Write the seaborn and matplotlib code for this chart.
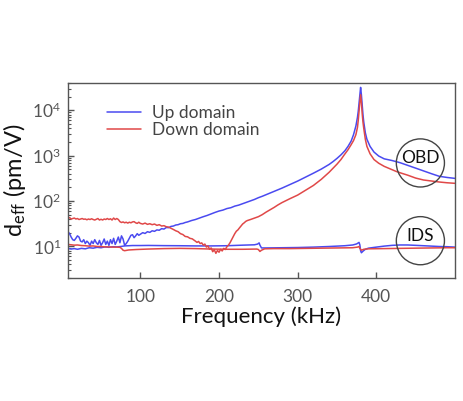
import numpy as np
import pandas as pd
import matplotlib
matplotlib.use("Agg")
import matplotlib.pyplot as plt
import seaborn as sns
from matplotlib.ticker import LogLocator, NullFormatter, FixedLocator

# ---------------- data ----------------
up_obd = [(8,21),(10,19),(12,16),(14,14),(16,13.5),(18,15),(20,17),(22,16),(24,13),(26,12.5),
          (28,14),(30,11.5),(32,13),(34,12),(36,10.5),(38,13),(40,11.5),(42,14),(44,12),(46,11),
          (48,13.5),(50,10.5),(52,12),(54,14.5),(56,11),(58,13),(60,10.5),(62,14),(64,11.5),(66,15),
          (68,11),(70,13),(72,16),(74,12),(76,17),(78,14.5),(80,10.5),(82,11.5),(84,13),(86,15),
          (88,17.5),(90,18),(92,15.5),(94,17),(96,19),(98,17.5),(100,18.5),(103,20),(106,19.2),
          (109,21),(112,20.3),(115,22),(118,21.4),(121,23),(124,22.6),(127,24.5),(130,24),(133,26),
          (136,25.8),(139,27.5),(142,28),(145,29.5),(148,30),(151,31.5),(154,32),(157,33.5),
          (160,34.5),(165,37),(170,39),(175,42),(180,45),(185,48),(190,52),(195,56),(200,60),
          (205,63),(210,68),(215,71),(220,77),(225,81),(230,87),(235,93),(240,100),(245,108),
          (250,118),(255,127),(260,138),(265,150),(270,162),(275,176),(280,192),(290,230),
          (300,275),(310,335),(320,410),(330,505),(340,640),(345,740),(350,870),(355,1040),
          (360,1280),(364,1600),(368,2100),(371,2900),(374,4500),(376,7000),(377,9500),
          (378,14000),(379,21000),(380,32000),(381,22000),(382,13000),(383,8000),(384,5500),
          (386,3200),(388,2300),(392,1600),(397,1200),(403,980),(410,850),(420,780),(430,700),
          (440,610),(450,530),(460,460),(470,400),(480,350),(490,330),(500,315)]

down_obd = [(8,42),(10,43),(12,40),(14,41),(16,42),(18,40),(20,41),(22,39),(24,40),(26,41),
            (28,39.5),(30,40),(32,38.5),(34,40),(36,39),(38,40.5),(40,39),(42,38),(44,39.5),
            (46,41),(48,38),(50,39.5),(52,38),(54,40),(56,39),(58,41),(60,39),(62,40.5),(64,38),
            (66,42),(68,39),(70,41),(72,39),(74,35),(76,33.5),(78,34.5),(80,33),(82,34),(84,32.5),
            (86,34),(88,33),(90,34.5),(92,35),(94,33),(96,32),(98,34),(100,32),(103,31),(106,32.5),
            (109,30.5),(112,31.5),(115,30),(118,31),(121,29),(124,30),(127,28),(130,28.5),(133,27),
            (136,26.5),(139,25),(142,23.5),(145,22),(148,21),(151,19),(154,18.2),(157,16.5),
            (160,16.2),(163,15),(166,14.6),(168,13.8),(170,13.0),(172,12.2),(174,12.8),(176,11.5),
            (178,11.9),(180,10.6),(182,11.2),(184,9.6),(186,10.2),(188,8.6),(190,9.2),(192,7.6),
            (194,8.4),(196,7.0),(198,8.1),(200,7.4),(202,8.6),(204,7.9),(206,9.0),(208,8.5),
            (210,9.8),(212,10.6),(214,12.0),(216,14.0),(218,16.5),(220,19),(222,21.5),(224,23),
            (226,25.5),(228,28),(230,31),(232,33),(234,35.5),(236,37),(240,39),(245,42),(250,45),
            (255,50),(260,57),(265,64),(270,72),(275,82),(280,92),(290,112),(300,135),(310,172),
            (320,220),(330,300),(340,430),(345,530),(350,650),(355,820),(359,1030),(364,1350),
            (368,1750),(371,2150),(374,2900),(376,4200),(377,6000),(378,9500),(379,15000),
            (380,22000),(381,15000),(382,8500),(383,5500),(384,4000),(386,2300),(388,1600),
            (392,1100),(397,820),(403,680),(410,580),(420,490),(425,450),(430,420),(440,370),
            (450,320),(460,290),(470,275),(480,262),(490,252),(500,245)]

up_ids = [(8,9.0),(12,8.7),(16,8.9),(20,8.6),(25,9.0),(30,8.8),(35,9.3),(40,9.1),(45,9.5),
          (50,9.3),(55,9.7),(60,9.5),(65,9.8),(70,9.7),(75,9.9),(80,10.2),(85,10.3),(90,10.4),
          (100,10.4),(110,10.45),(130,10.35),(150,10.3),(170,10.2),(190,10.2),(210,10.3),
          (230,10.6),(245,10.8),(249,11.2),(251,11.9),(252,10.6),(254,9.2),(260,9.2),(280,9.3),
          (300,9.4),(320,9.6),(340,9.9),(360,10.3),(370,10.7),(375,11.3),(378,12.2),(379,10.8),
          (380,8.0),(381,7.2),(383,7.8),(386,8.6),(390,9.1),(400,9.6),(410,10.1),(420,10.5),
          (430,10.7),(440,10.7),(450,10.5),(460,10.3),(470,10.1),(480,9.9),(490,9.8),(500,9.6)]

down_ids = [(8,11.0),(12,10.8),(16,10.6),(20,10.7),(25,10.4),(30,10.3),(35,10.1),(40,10.2),
            (45,9.9),(50,9.9),(55,9.7),(60,9.7),(65,9.6),(70,9.6),(74,9.5),(76,9.0),(78,8.2),
            (80,8.0),(85,8.3),(95,8.5),(110,8.7),(130,8.9),(150,9.0),(170,8.9),(190,8.7),
            (210,8.6),(230,8.6),(248,8.7),(250,8.5),(252,7.7),(254,8.2),(258,8.8),(270,8.9),
            (290,8.9),(310,9.0),(330,9.1),(350,9.2),(370,9.3),(376,9.6),(378,9.9),(379,9.0),
            (381,8.2),(384,8.6),(390,8.8),(410,8.9),(430,9.0),(450,9.1),(470,9.2),(490,9.3),
            (500,9.3)]

domains = ["Up domain", "Down domain"]
x_ticks = [100, 200, 300, 400]
annot_labels = ["OBD", "IDS"]
annot_freq = [456, 456]
annot_deff = [690, 13.3]

# ---------------- build long table ----------------
rows = []
for pairs, dom, meth in [(up_obd, domains[0], "OBD"), (down_obd, domains[1], "OBD"),
                         (up_ids, domains[0], "IDS"), (down_ids, domains[1], "IDS")]:
    for f, v in pairs:
        rows.append({"freq": f, "deff": v, "domain": dom, "method": meth})
df = pd.DataFrame(rows)

# ---------------- style ----------------
sns.set_style("white")
plt.rcParams.update({
    "font.family": ["Lato", "DejaVu Sans"],
    "mathtext.fontset": "custom",
    "mathtext.rm": "Lato",
    "mathtext.it": "Lato:italic",
    "mathtext.bf": "Lato:bold",
})

blue = "#4a4af0"
red = "#e04848"

fig = plt.figure(figsize=(4.63, 4.01), dpi=100)
ax = fig.add_axes([68/463, 1-278/401, 387/463, 195/401])

sns.lineplot(data=df, x="freq", y="deff", hue="domain", units="method",
             estimator=None, hue_order=domains,
             palette={domains[0]: blue, domains[1]: red},
             lw=1.1, ax=ax)

ax.set_yscale("log")
ax.set_xlim(8, 500)
ax.set_ylim(2, 4e4)
ax.xaxis.set_major_locator(FixedLocator(x_ticks))
ax.yaxis.set_major_locator(LogLocator(base=10))
ax.yaxis.set_minor_locator(LogLocator(base=10, subs=np.arange(2, 10)))
ax.yaxis.set_minor_formatter(NullFormatter())

ax.tick_params(axis="both", which="both", direction="in", top=False, right=False,
               bottom=True, left=True, colors="#555555", labelcolor="#555555")
ax.tick_params(axis="both", which="major", length=4, width=1, labelsize=12.5)
ax.tick_params(axis="x", which="major", pad=8)
ax.tick_params(axis="y", which="major", pad=5)
ax.tick_params(axis="y", which="minor", length=2, width=0.8)
ax.tick_params(axis="x", which="minor", bottom=False)

for s in ax.spines.values():
    s.set_color("#555555")
    s.set_linewidth(1.0)

ax.set_xlabel("Frequency (kHz)", fontsize=16, color="#111111", labelpad=1)
ax.set_ylabel(r"d$_{\mathrm{eff}}$ (pm/V)", fontsize=17, color="#111111", labelpad=3)

ax.legend(title=None, frameon=False, loc="upper left", bbox_to_anchor=(0.10, 0.885),
          borderaxespad=0, borderpad=0, handlelength=2.0, handletextpad=0.6,
          labelspacing=0.05, fontsize=12.5, labelcolor="#444444")

ax.scatter(annot_freq, annot_deff, s=1200, facecolors="none", edgecolors="#444444",
           linewidths=1.0, zorder=5)
for lab, fx, fy in zip(annot_labels, annot_freq, annot_deff):
    ax.annotate(lab, (fx, fy), xytext=(0, 3.5), textcoords="offset points",
                ha="center", va="center", fontsize=12.5, color="#111111", zorder=6)

fig.savefig("out.png", dpi=100)
